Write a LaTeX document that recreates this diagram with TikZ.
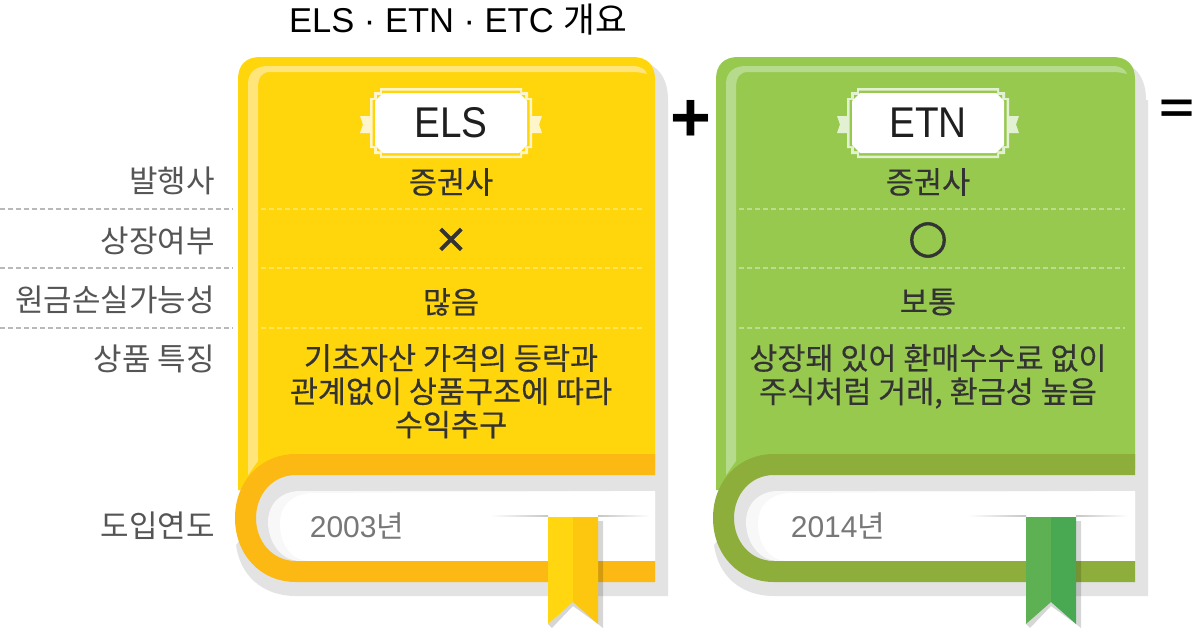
\documentclass[tikz,border=0pt]{standalone}
\usepackage{fontspec}
\setmainfont{Liberation Sans}
\newfontfamily\kr{Noto Sans CJK KR}
\newfontfamily\krm[FakeBold=0.35]{Noto Sans CJK KR}
\newfontfamily\sym[FakeBold=1.2]{DejaVu Sans}
\definecolor{shadowgrey}{HTML}{E3E3E3}
\definecolor{softgrey}{HTML}{F8F8F8}
\definecolor{ink}{HTML}{333333}
\definecolor{labelgrey}{HTML}{555555}
\definecolor{yearink}{HTML}{777777}
\definecolor{yBody}{HTML}{FFD50B}
\definecolor{yBand}{HTML}{FDB913}
\definecolor{yLight}{HTML}{FFE57A}
\definecolor{yDash}{HTML}{FFE45C}
\definecolor{yRibL}{HTML}{FFD60F}
\definecolor{yRibR}{HTML}{FDC60F}
\definecolor{gBody}{HTML}{97C94F}
\definecolor{gBand}{HTML}{8DAE3B}
\definecolor{gLight}{HTML}{B7DB8C}
\definecolor{gDash}{HTML}{BBDD8E}
\definecolor{gRibL}{HTML}{5DB153}
\definecolor{gRibR}{HTML}{49A852}
\newcommand{\drawbook}[8]{%
 \begin{scope}[shift={(#1,0)}]
  \fill[shadowgrey] (640,60) .. controls (660,66) and (668,80) .. (668,100) -- (#2+13,100) -- (#2+13,596) -- (296,596) .. controls (262,596) and (240,575) .. (236,545) -- cycle;
  \fill[#3] (238,490) -- (238,79) .. controls (238,65) and (246,57) .. (260,57) -- (#2-22,57) .. controls (#2-8,57) and (#2,65) .. (#2,79) -- (#2,490) -- cycle;
  \fill[#5] (248,475) -- (248,84) .. controls (248,72) and (256,66) .. (268,66) -- (#2-22,66) .. controls (#2-14,66) and (#2-9,70) .. (#2-8,74) .. controls (#2-12,73) and (#2-16,72) .. (#2-22,72) -- (270,72) .. controls (262,72) and (258,77) .. (258,88) -- (258,455) -- cycle;
  \fill[shadowgrey] (#2,470) rectangle (#2+13,596);
  \fill[shadowgrey] (#2,475) -- (292,475) .. controls (268,475) and (252,495) .. (252,518) .. controls (252,541) and (268,565) .. (292,565) -- (#2,565) -- cycle;
  \fill[softgrey] (#2,491) -- (300,491) .. controls (282,491) and (268,503) .. (268,522) .. controls (268,543) and (282,561) .. (300,561) -- (#2,561) -- cycle;
  \fill[white] (#2,491) -- (310,493) .. controls (292,495) and (280,505) .. (280,524) .. controls (280,545) and (292,561) .. (310,561) -- (#2,561) -- cycle;
  \fill[#4] (#2,454) -- (296,454) .. controls (260,454) and (235,482) .. (235,518) .. controls (235,554) and (260,582) .. (296,582) -- (#2,582) -- (#2,561) -- (296,561) .. controls (272,561) and (256,541) .. (256,518) .. controls (256,495) and (272,475) .. (296,475) -- (#2,475) -- cycle;
  \fill[#5] (248,475) -- (258,461) -- (258,455) -- (248,461) -- cycle;
  \shade[left color=white,right color=gray!45] (490,515.5) rectangle (548,516.7);
  \shade[left color=gray!45,right color=white] (598,515.5) rectangle (650,516.7);
  \fill[black,opacity=.16] (598,521) -- (603,521) -- (603,628) -- (598,624) -- (573,606) -- (552,628) -- (548,624) -- (573,601) -- (598,623) -- cycle;
  \fill[#7] (548,517) -- (573,517) -- (573,602) -- (548,624) -- cycle;
  \fill[#8] (573,517) -- (598,517) -- (598,624) -- (573,602) -- cycle;
  \draw[#6,line width=2pt,dash pattern=on 5pt off 3pt] (261,209) -- (#2-10,209) (261,268) -- (#2-10,268) (261,328) -- (#2-10,328);
 \end{scope}}
\newcommand{\drawplate}[3]{%
 \begin{scope}[shift={(#1,0)}]
  \fill[#3] (360,116) -- (372,116) -- (372,133) -- (360,133) -- (363,124.5) -- cycle;
  \fill[#3] (542,116) -- (530,116) -- (530,133) -- (542,133) -- (539,124.5) -- cycle;
  \fill[#2] (370,113) rectangle (372,136);
  \fill[#2] (530,113) rectangle (532,136);
  \fill[#3] (380,88) -- (522,88) -- (522,92) -- (528,92) -- (528,98) -- (532,98) -- (532,148) -- (528,148) -- (528,154) -- (522,154) -- (522,158) -- (380,158) -- (380,154) -- (374,154) -- (374,148) -- (370,148) -- (370,98) -- (374,98) -- (374,92) -- (380,92) -- cycle;
  \fill[#2] (382,90.5) -- (520,90.5) -- (520,95) -- (525,95) -- (525,100) -- (529.5,100) -- (529.5,146) -- (525,146) -- (525,151) -- (520,151) -- (520,155.5) -- (382,155.5) -- (382,151) -- (377,151) -- (377,146) -- (372.5,146) -- (372.5,100) -- (377,100) -- (377,95) -- (382,95) -- cycle;
  \fill[white] (383,93) -- (519,93) -- (527,101) -- (527,145) -- (519,153) -- (383,153) -- (375,145) -- (375,101) -- cycle;
 \end{scope}}
\tikzset{
 heading/.style={font=\fontsize{34.5}{36}\selectfont,text=black,inner sep=0pt},
 platetext/.style={font=\fontsize{43}{46}\selectfont,text=ink!60!black,inner sep=0pt},
 cell/.style={font=\krm\fontsize{30.5}{33.3}\selectfont,text=ink,inner sep=0pt,align=center},
 rowlabel/.style={font=\kr\fontsize{31}{33}\selectfont,text=labelgrey,inner sep=0pt,anchor=east},
 yeartext/.style={font=\kr\fontsize{31}{33}\selectfont,text=yearink,inner sep=0pt},
 opsign/.style={font=\bfseries\fontsize{70}{72}\selectfont,text=black,inner sep=0pt},
 eqsign/.style={font=\bfseries\fontsize{60}{62}\selectfont,text=black,inner sep=0pt},
 rowrule/.style={draw=gray!55,line width=2pt,dash pattern=on 5pt off 3pt}
}
\begin{document}
\begin{tikzpicture}[x=1pt,y=-1pt]
\useasboundingbox (0,0) rectangle (1200,630);
\fill[white] (0,0) rectangle (1200,630);
\drawbook{0}{655}{yBody}{yBand}{yLight}{yDash}{yRibL}{yRibR}
\drawbook{478}{657}{gBody}{gBand}{gLight}{gDash}{gRibL}{gRibR}
\drawplate{0}{yBody}{yLight!40!white}
\drawplate{477}{gBody}{gLight!40!white}
\draw[rowrule] (0,209) -- (233,209) (0,268) -- (233,268) (0,328) -- (233,328);
\node[heading] (title) at (458,20) {ELS · ETN · ETC {\kr 개요}};
\node[platetext] (els) at (451,123) {\scalebox{.9}[1]{ELS}};
\node[platetext] (etn) at (928,123) {\scalebox{.9}[1]{ETN}};
\node[opsign] (plus) at (691,121) {+};
\node[inner sep=0pt] (equals) at (1177,111) {\scalebox{1}[.72]{\fontsize{60}{62}\selectfont\bfseries =}};
\node[rowlabel] (l1) at (215,181) {발행사};
\node[rowlabel] (l2) at (215,241) {상장여부};
\node[rowlabel] (l3) at (215,300) {원금손실가능성};
\node[rowlabel] (l4) at (215,359) {상품 특징};
\node[rowlabel] (l5) at (215,526) {도입연도};
\node[cell] (a1) at (451,182) {증권사};
\node[cell] (a2) at (451,240) {\sym\fontsize{40}{40}\selectfont ×};
\node[cell] (a3) at (451,302) {많음};
\node[cell,anchor=north] (a4) at (451,344) {기초자산 가격의 등락과\\관계없이 상품구조에 따라\\수익추구};
\node[yeartext] (a5) at (357,526) {\rmfamily\fontsize{30}{33}\selectfont 2003{\kr 년}};
\node[cell] (b1) at (928,182) {증권사};
\node[cell] (b2) at (928,240) {\sym\fontsize{46}{46}\selectfont ○};
\node[cell] (b3) at (928,302) {보통};
\node[cell,anchor=north] (b4) at (928,344) {상장돼 있어 환매수수료 없이\\주식처럼 거래, 환금성 높음};
\node[yeartext] (b5) at (838,526) {\rmfamily\fontsize{30}{33}\selectfont 2014{\kr 년}};
\end{tikzpicture}
\end{document}
